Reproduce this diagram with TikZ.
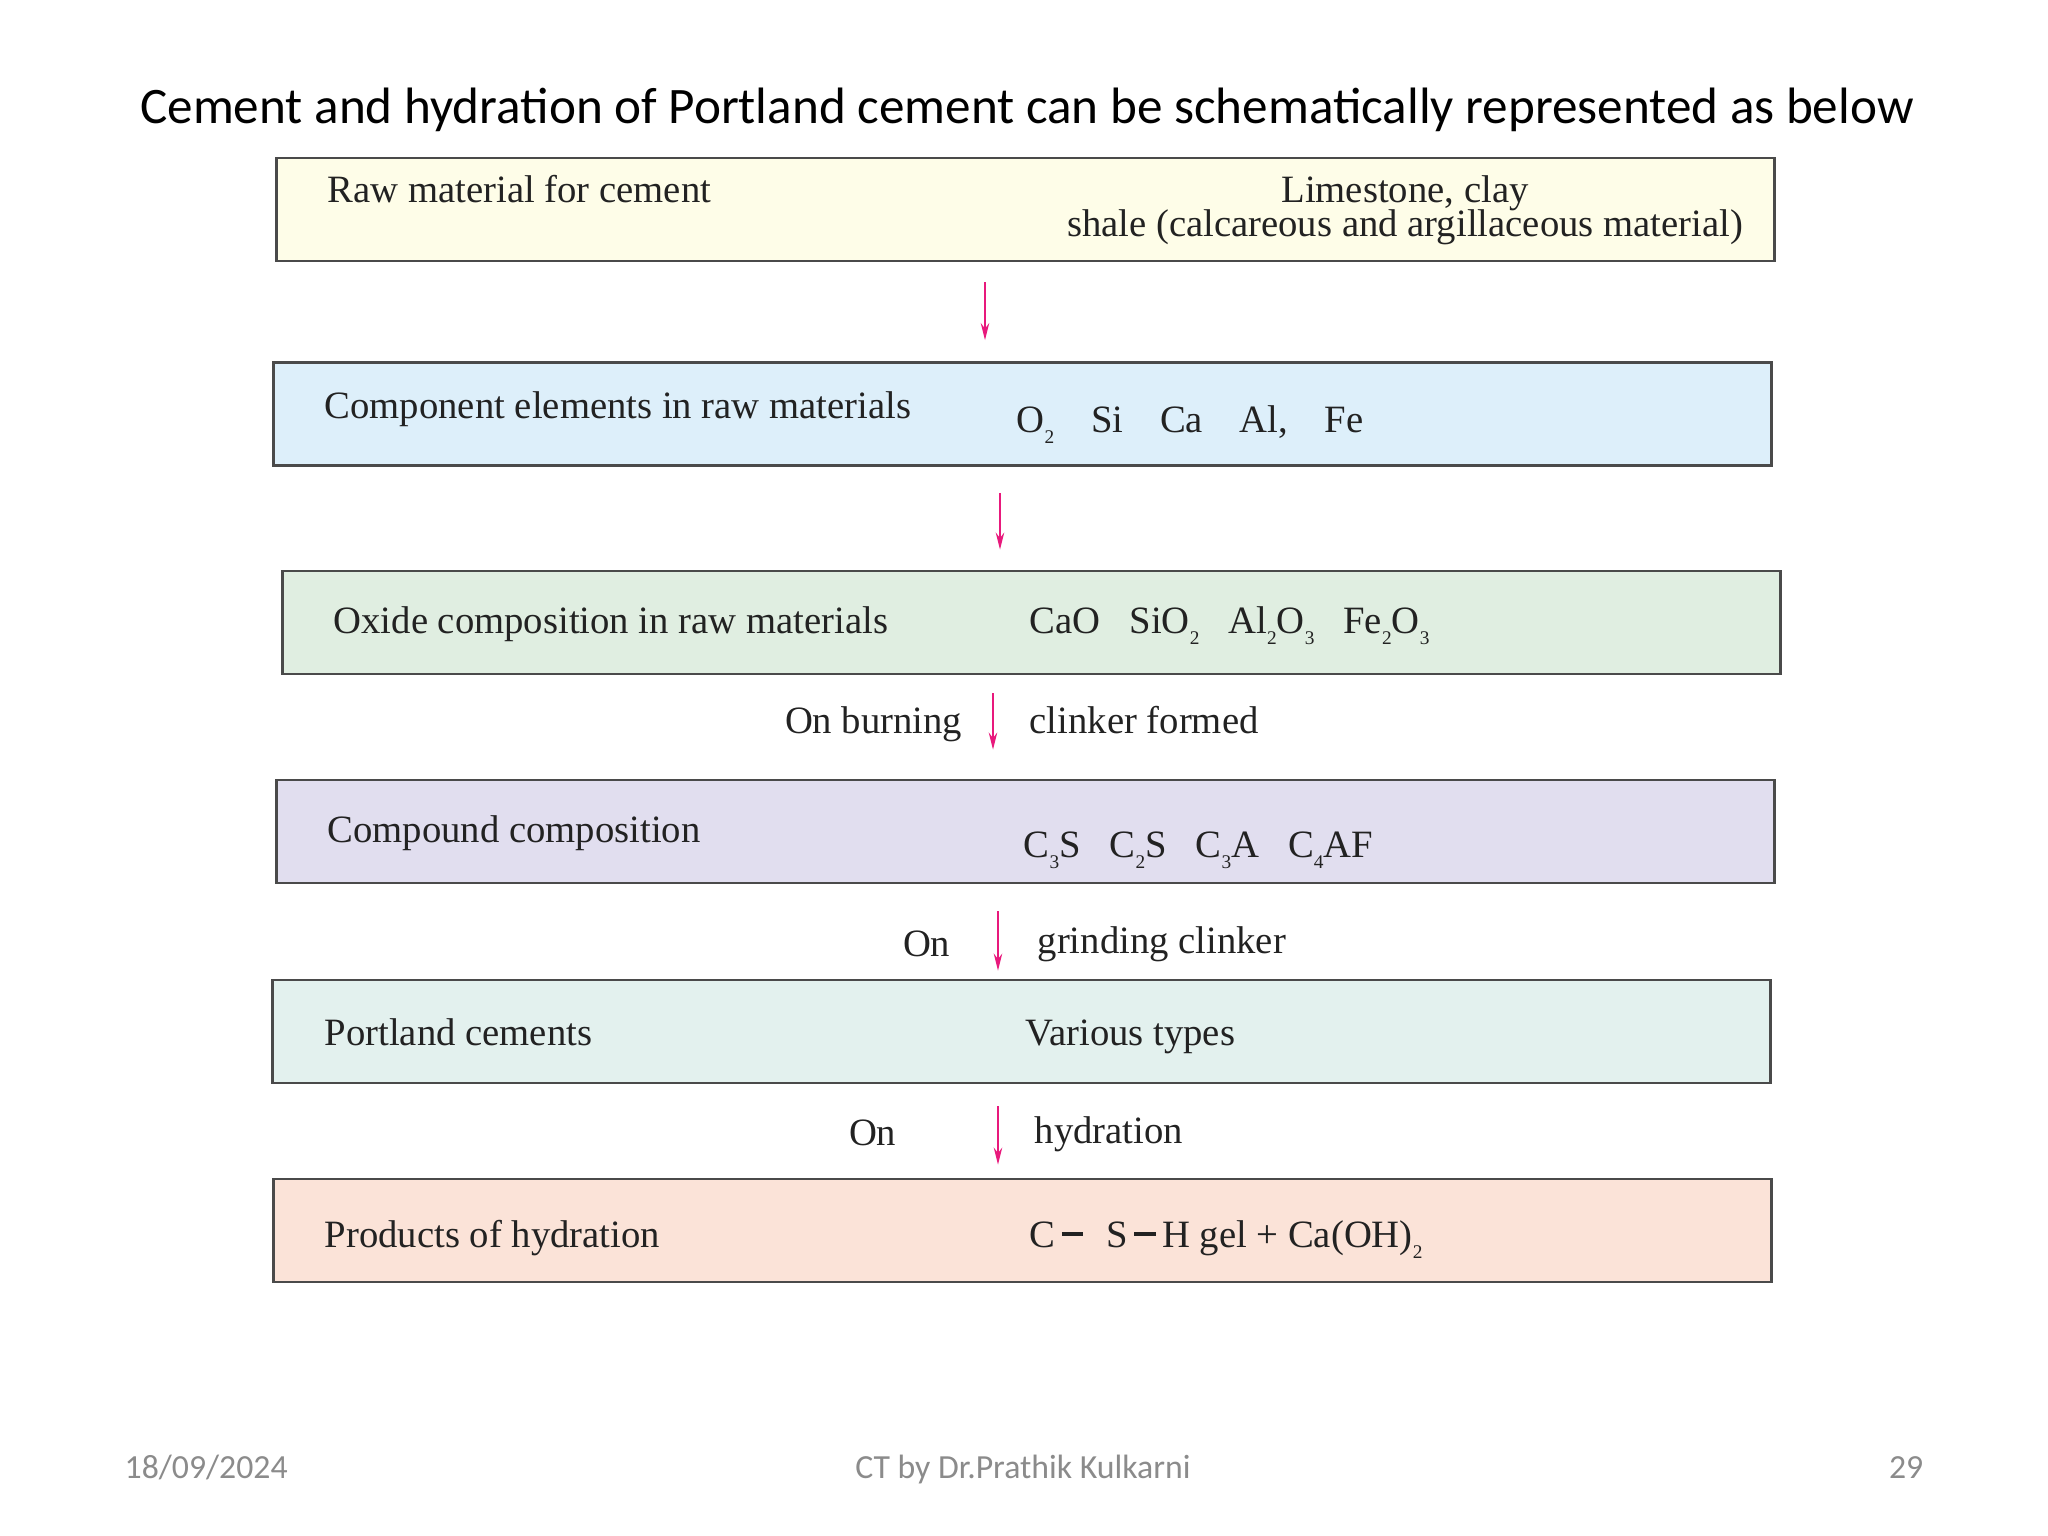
\documentclass[tikz,border=0pt]{standalone}
\usepackage{fontspec}
\setmainfont{Liberation Serif}
\newfontfamily\calib{Carlito}
\usetikzlibrary{arrows.meta}
\definecolor{fyel}{HTML}{FEFDE8}
\definecolor{fblu}{HTML}{DDEFFA}
\definecolor{fgrn}{HTML}{E0EEE1}
\definecolor{flav}{HTML}{E1DEEF}
\definecolor{fteal}{HTML}{E3F1EE}
\definecolor{fpch}{HTML}{FBE3D8}
\definecolor{arrpink}{HTML}{E8197C}
\definecolor{edgec}{HTML}{4A4A4A}
\definecolor{foot}{HTML}{8B8B8B}
\definecolor{txt}{HTML}{222222}
\tikzset{
  stagebox/.style={draw=edgec, line width=0.8pt, rectangle, inner sep=0pt,
    minimum width=14.97cm, minimum height=1.03cm},
  lbl/.style={font=\fontsize{11}{13}\selectfont, text=txt, inner sep=0pt},
  flowarr/.style={draw=arrpink, line width=0.5pt, -{Stealth[length=0.17cm,width=0.085cm]}},
  foottxt/.style={font=\calib\fontsize{9.6}{11}\selectfont, text=foot, inner sep=0pt}
}
\newcommand{\sbs}[1]{\raisebox{-0.3em}{\fontsize{5.5}{6}\selectfont #1}}
\newcommand{\fgap}{\hspace{0.75em}}
\begin{document}
\begin{tikzpicture}[x=0.01cm,y=-0.01cm]
\useasboundingbox (0,0) rectangle (2048,1536);
% title
\node[font=\calib\fontsize{14.55}{17}\selectfont, inner sep=0pt] (title) at (1027,110)
  {Cement and hydration of Portland cement can be schematically represented as below};
% boxes
\node[stagebox, fill=fyel]  (b1) at (1025.5,209.5) {};
\node[stagebox, fill=fblu]  (b2) at (1022.5,414) {};
\node[stagebox, fill=fgrn]  (b3) at (1031.5,622.5) {};
\node[stagebox, fill=flav]  (b4) at (1025.5,831.5) {};
\node[stagebox, fill=fteal] (b5) at (1021.5,1031.5) {};
\node[stagebox, fill=fpch]  (b6) at (1022.5,1230.5) {};
% box texts
\node[lbl, anchor=base west] (t1a) at (327,202) {Raw material for cement};
\node[lbl, anchor=base] (t1b) at (1405,202) {Limestone, clay};
\node[lbl, anchor=base] (t1c) at (1405,236) {shale (calcareous and argillaceous material)};
\node[lbl, anchor=base west] (t2a) at (324,418) {Component elements in raw materials};
\node[lbl, anchor=base west] (t2b) at (1016,432) {O\sbs{2}\hspace{0.95em}Si\hspace{0.95em}Ca\hspace{0.95em}Al,\hspace{0.95em}Fe};
\node[lbl, anchor=base west] (t3a) at (333,633) {Oxide composition in raw materials};
\node[lbl, anchor=base west] (t3b) at (1029,633) {CaO\fgap SiO\sbs{2}\fgap Al\sbs{2}O\sbs{3}\fgap Fe\sbs{2}O\sbs{3}};
\node[lbl, anchor=base west] (t4a) at (327,842) {Compound composition};
\node[lbl, anchor=base west] (t4b) at (1023,857) {C\sbs{3}S\fgap C\sbs{2}S\fgap C\sbs{3}A\fgap C\sbs{4}AF};
\node[lbl, anchor=base west] (t5a) at (324,1045) {Portland cements};
\node[lbl, anchor=base west] (t5b) at (1025,1045) {Various types};
\node[lbl, anchor=base west] (t6a) at (324,1247) {Products of hydration};
\node[lbl, anchor=base west] (t6b) at (1029,1247) {C\,\rule[0.28em]{0.55em}{0.12em}\hspace{0.6em}S\,\rule[0.28em]{0.55em}{0.12em}\,H gel + Ca(OH)\sbs{2}};
% arrow x positions
\coordinate (x1) at (985,0);
\coordinate (x2) at (1000,0);
\coordinate (x3) at (993,0);
\coordinate (x4) at (998,0);
\coordinate (x5) at (998,0);
% arrows
\draw[flowarr, shorten <=0.20cm, shorten >=0.21cm] (b1.south -| x1) -- (b2.north -| x1);
\draw[flowarr, shorten <=0.26cm, shorten >=0.20cm] (b2.south -| x2) -- (b3.north -| x2);
\draw[flowarr, shorten <=0.18cm, shorten >=0.29cm] (b3.south -| x3) -- (b4.north -| x3);
\draw[flowarr, shorten <=0.27cm, shorten >=0.08cm] (b4.south -| x4) -- (b5.north -| x4);
\draw[flowarr, shorten <=0.22cm, shorten >=0.13cm] (b5.south -| x5) -- (b6.north -| x5);
% arrow labels
\node[lbl, anchor=base east] (l3a) at (963,733) {On burning};
\node[lbl, anchor=base west] (l3b) at (1029,733) {clinker formed};
\node[lbl, anchor=base east] (l4a) at (951,956) {On};
\node[lbl, anchor=base west] (l4b) at (1037,953) {grinding clinker};
\node[lbl, anchor=base east] (l5a) at (897,1145) {On};
\node[lbl, anchor=base west] (l5b) at (1034,1143) {hydration};
% footer
\node[foottxt, anchor=base west] (f1) at (124,1478) {18/09/2024};
\node[foottxt, anchor=base] (f2) at (1023,1478) {CT by Dr.Prathik Kulkarni};
\node[foottxt, anchor=base east] (f3) at (1924,1478) {29};
\end{tikzpicture}
\end{document}
